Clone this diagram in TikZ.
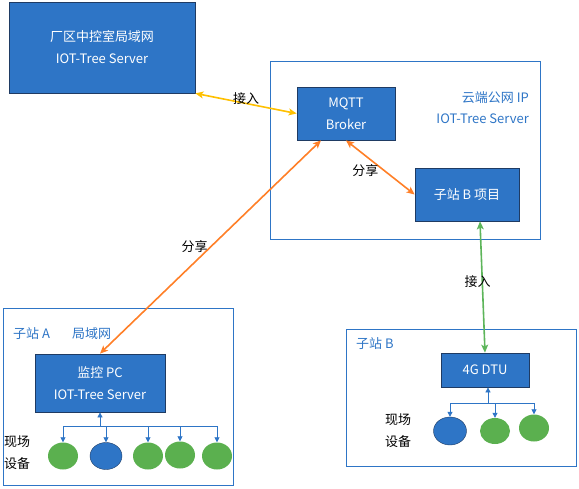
\documentclass[tikz,border=0pt]{standalone}
\usepackage{fontspec}
\setmainfont{Noto Sans CJK SC}
\usetikzlibrary{arrows.meta,shapes.geometric}

\definecolor{boxblue}{HTML}{2E75C6}
\definecolor{boxnavy}{HTML}{1F3B63}
\definecolor{devgreen}{HTML}{5BB04F}
\definecolor{linkorange}{HTML}{FF7F27}
\definecolor{linkyellow}{HTML}{FFC000}
\definecolor{linkgreen}{HTML}{5DB55A}

\tikzset{
  link/.style={line width=1.6pt, {Stealth[length=8pt,width=7pt,inset=2pt]}-{Stealth[length=8pt,width=7pt,inset=2pt]}},
  bus/.style={draw=boxblue, line width=0.8pt, -{Triangle[length=5pt,width=5pt]}}
}

\begin{document}
\begin{tikzpicture}[x=1pt,y=-1pt,font=\fontsize{13}{22}\selectfont]

      \useasboundingbox (0,0) rectangle (579,488);

      % frames
      \begin{scope}[every node/.style={draw=boxblue, line width=0.8pt, inner sep=0pt}]
        \node[minimum width=270pt, minimum height=178pt] (cloud) at (405,150) {};
        \node[minimum width=230pt, minimum height=177pt] (siteA) at (118,396.5) {};
        \node[minimum width=230pt, minimum height=137pt] (siteB) at (461,397.5) {};
      \end{scope}

      \begin{scope}[every node/.style={text=boxblue, inner sep=0pt}]
        \node[anchor=east] (cloudname) at (529,98) {云端公网 IP};
        \node[anchor=east] (cloudsrv)  at (529,119) {IOT-Tree Server};
        \node[anchor=west] (siteAname) at (13,334) {子站 A};
        \node[anchor=west] (siteAlan)  at (72,334) {局域网};
        \node[anchor=west] (siteBname) at (356,344) {子站 B};
      \end{scope}

      % boxes
      \begin{scope}[every node/.style={draw=boxnavy, fill=boxblue, text=white, align=center,
                                       inner sep=0pt, line width=0.8pt}]
        \node[minimum width=186pt, minimum height=91pt] (plant) at (102,47.5) {厂区中控室局域网\\IOT-Tree Server};
        \node[minimum width=98pt,  minimum height=53pt] (mqtt)  at (346,113.5) {MQTT\\Broker};
        \node[minimum width=104pt, minimum height=53pt] (prjB)  at (467,194.5) {子站 B 项目};
        \node[minimum width=130pt, minimum height=58pt] (pc)    at (100,383) {监控 PC\\IOT-Tree Server};
        \node[minimum width=88pt,  minimum height=34pt] (dtu)   at (485,370) {4G DTU};
      \end{scope}

      % devices
      \begin{scope}[every node/.style={ellipse, inner sep=0pt, fill=devgreen,
                                       minimum width=30pt, minimum height=27pt}]
        \node (a1) at (63,456) {};
        \node[fill=boxblue, draw=boxnavy, minimum width=32pt] (a2) at (106,456) {};
        \node (a3) at (148,456) {};
        \node (a4) at (180,455) {};
        \node (a5) at (217,456) {};
        \node[fill=boxblue, draw=boxnavy, minimum width=33pt, minimum height=28pt] (b1) at (450,431) {};
        \node[minimum height=26pt] (b2) at (495,431) {};
        \node (b3) at (534,428) {};
      \end{scope}

      \begin{scope}[every node/.style={inner sep=0pt, align=left, anchor=west}]
        \node (devA) at (4,453) {现场\\设备};
        \node (devB) at (385,431) {现场\\设备};
      \end{scope}

      % field bus
      \coordinate (ja) at (100,426);
      \coordinate (jb) at (488,403);
      \draw[bus] (ja) -- (pc.south);
      \draw[draw=boxblue, line width=0.8pt] (a1.north |- ja) -- (a5.north |- ja);
      \foreach \d in {a1,a2,a3,a4,a5}
        \draw[bus] (\d.north |- ja) -- (\d.north);
      \draw[bus] (jb) -- (jb |- dtu.south);
      \draw[draw=boxblue, line width=0.8pt] (b1.north |- jb) -- (b3.north |- jb);
      \foreach \d in {b1,b2,b3}
        \draw[bus] (\d.north |- jb) -- (\d.north);

      % links
      \begin{scope}[every node/.style={text=black, inner sep=0pt}]
        \path (plant.south east) edge[link, draw=linkyellow] node[yshift=5pt] {接入} (mqtt.west);
        \path ([xshift=-25pt]mqtt.south) edge[link, draw=linkorange] node[xshift=-16pt] {分享} (pc.north);
        \path (mqtt.south) edge[link, draw=linkorange] node[xshift=-15pt, yshift=-3pt] {分享} (prjB.west);
        \path ([xshift=13pt]prjB.south) edge[link, draw=linkgreen] node[xshift=-5pt, yshift=5pt] {接入} (dtu.north);
      \end{scope}

    \end{tikzpicture}
\end{document}
